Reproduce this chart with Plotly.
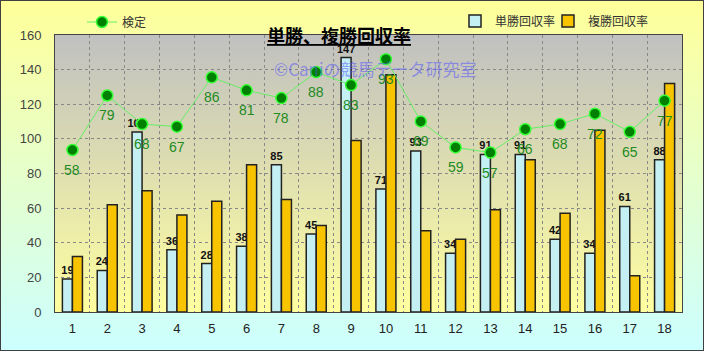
import plotly.graph_objects as go

W, H = 704, 351

races = [str(i) for i in range(1, 19)]
tansho = [19, 24, 104, 36, 28, 38, 85, 45, 147, 71, 93, 34, 91, 91, 42, 34, 61, 88]
fukusho = [32, 62, 70, 56, 64, 85, 65, 50, 99, 137, 47, 42, 59, 88, 57, 105, 21, 132]
kentei = [58, 79, 68, 67, 86, 81, 78, 88, 83, 93, 69, 59, 57, 66, 68, 72, 65, 77]

y_ticks = [0, 20, 40, 60, 80, 100, 120, 140, 160]

# plot area (pixels)
PL, PR, PT, PB = 55, 682, 35, 312
xd = [PL / W, PR / W]
yd = [1 - PB / H, 1 - PT / H]

NUM_FONT = "Liberation Sans, Arial, sans-serif"
JP_FONT = "Noto Sans CJK JP, sans-serif"

fig = go.Figure()

# full background gradient (yellow -> cyan)
fig.add_trace(go.Scatter(
    x=[0, 1, 1, 0, 0], y=[0, 0, 1, 1, 0], mode="lines", fill="toself",
    line=dict(width=0, color="rgba(0,0,0,0)"),
    fillgradient=dict(type="vertical", colorscale=[[0, "#CCFFFF"], [1, "#FFFF99"]]),
    xaxis="x", yaxis="y", showlegend=False, hoverinfo="skip"))
# plot-area gradient (grey -> yellow)
fig.add_trace(go.Scatter(
    x=[xd[0], xd[1], xd[1], xd[0], xd[0]], y=[yd[0], yd[0], yd[1], yd[1], yd[0]],
    mode="lines", fill="toself",
    line=dict(width=0, color="rgba(0,0,0,0)"),
    fillgradient=dict(type="vertical", colorscale=[[0, "#FFFFA0"], [1, "#C0C0C0"]]),
    xaxis="x", yaxis="y", showlegend=False, hoverinfo="skip"))

fig.add_trace(go.Bar(
    x=races, y=tansho, name="単勝回収率", xaxis="x2", yaxis="y2",
    marker=dict(color="#C4F0F4", line=dict(color="#222222", width=1.5)),
    text=[str(v) for v in tansho], textposition="outside", constraintext="none",
    cliponaxis=False,
    textfont=dict(family=NUM_FONT, size=11, color="#111111", weight="bold"),
    legend="legend2"))
fig.add_trace(go.Bar(
    x=races, y=fukusho, name="複勝回収率", xaxis="x2", yaxis="y2",
    marker=dict(color="#F8C400", line=dict(color="#222222", width=1.5)),
    legend="legend3"))
fig.add_trace(go.Scatter(
    x=races, y=kentei, name="検定", xaxis="x2", yaxis="y3",
    mode="lines+markers",
    line=dict(color="#66EE66", width=1),
    marker=dict(size=11, color="#008000", line=dict(color="#33FF33", width=1.5)),
    cliponaxis=False, legend="legend"))

annotations = []
for i, v in enumerate(kentei):
    annotations.append(dict(x=i, y=v, xref="x2", yref="y3", text=str(v),
                            showarrow=False, yshift=-20,
                            font=dict(family=NUM_FONT, size=14, color="#228B22")))
annotations.append(dict(x=339 / W, y=1 - 20 / H, xref="paper", yref="paper",
                        text="<b><u>単勝、複勝回収率</u></b>", showarrow=False,
                        font=dict(family=JP_FONT, size=18, color="#000000")))
annotations.append(dict(x=479 / W, y=1 - 54 / H, xref="paper", yref="paper",
                        text="©Caniの競馬データ研究室", showarrow=False,
                        font=dict(family=JP_FONT, size=17, color="rgba(80,80,255,0.5)")))

leg_common = dict(orientation="h", xanchor="left", yanchor="middle",
                  bgcolor="rgba(0,0,0,0)",
                  font=dict(family=JP_FONT, size=12, color="#333333"), itemwidth=30)

fig.update_layout(
    width=W, height=H, margin=dict(l=0, r=0, t=0, b=0, autoexpand=False),
    paper_bgcolor="#FFFFCC", plot_bgcolor="rgba(0,0,0,0)",
    barmode="group", bargap=0.425, bargroupgap=0,
    xaxis=dict(domain=[0, 1], range=[0, 1], visible=False, fixedrange=True),
    yaxis=dict(domain=[0, 1], range=[0, 1], visible=False, fixedrange=True),
    xaxis2=dict(domain=xd, anchor="y2", type="category", tickson="boundaries",
                range=[-0.5, len(races) - 0.5],
                showgrid=True, gridcolor="#888888", griddash="dot", gridwidth=1,
                ticks="", showline=True, linecolor="#444444", linewidth=1, mirror=True,
                tickfont=dict(family=NUM_FONT, size=13, color="#222222"),
                ticklabelstandoff=4),
    yaxis2=dict(domain=yd, anchor="x2", range=[0, 160], tickvals=y_ticks,
                showgrid=True, gridcolor="#888888", griddash="dot", gridwidth=1,
                zeroline=False, showline=True, linecolor="#444444", linewidth=1, mirror=True,
                ticks="", tickfont=dict(family=NUM_FONT, size=13, color="#444444"),
                ticklabelstandoff=10),
    yaxis3=dict(overlaying="y2", range=[-4.4, 102.3], visible=False),
    legend=dict(x=82 / W, y=1 - 22 / H, **leg_common),
    legend2=dict(x=455 / W, y=1 - 21 / H, **leg_common),
    legend3=dict(x=548 / W, y=1 - 21 / H, **leg_common),
    shapes=[dict(type="rect", xref="paper", yref="paper", x0=0, y0=0, x1=1, y1=1,
                 line=dict(color="#404040", width=2))],
    annotations=annotations,
)

fig.write_html("out.html")
